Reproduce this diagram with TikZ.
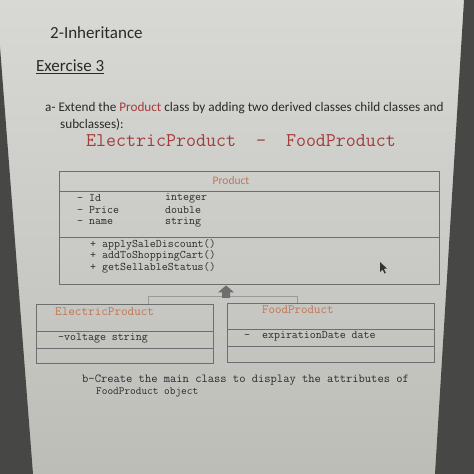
\documentclass[tikz,border=0pt]{standalone}
\usepackage{fontspec}
\setmainfont{Carlito}
\usetikzlibrary{positioning}
\definecolor{bgc}{HTML}{D8D8D5}
\definecolor{bgd}{HTML}{BDBDB8}
\definecolor{edge}{HTML}{474745}
\definecolor{linec}{HTML}{6E6E6E}
\definecolor{hdr}{HTML}{C47452}
\definecolor{redm}{HTML}{A53C3C}
\definecolor{txt}{HTML}{2A2A2A}
\tikzset{
  umlbox/.style={draw=linec, line width=0.9pt, inner sep=0pt},
  sep/.style={draw=linec, line width=0.9pt},
  link/.style={draw=linec!70, line width=1pt},
  body/.style={anchor=west, inner sep=0pt, text=txt, font=\ttfamily\fontsize{11.6}{13}\selectfont},
  sans/.style={anchor=west, inner sep=0pt, text=txt},
}
\begin{document}
\begin{tikzpicture}[x=1pt,y=-1pt]
\useasboundingbox (0,0) rectangle (474,474);
% background (photo of a screen)
\shade[top color=bgc, bottom color=bgd] (0,0) rectangle (474,474);
\fill[edge] (0,47) -- (33,474) -- (0,474) -- cycle;
\fill[edge] (464,0) -- (435,474) -- (474,474) -- (474,0) -- cycle;

% headings
\node[sans, font=\fontsize{17}{20}\selectfont] (title) at (50,33) {2-Inheritance};
\node[sans, font=\fontsize{17}{20}\selectfont] (ex) at (36,67) {\underline{Exercise 3}};
\node[sans, font=\fontsize{13.2}{15}\selectfont] (a1) at (45,108) {a- Extend the \textcolor{redm}{Product} class by adding two derived classes child classes and};
\node[sans, font=\fontsize{13.2}{15}\selectfont] (a2) at (60,125) {subclasses):};
\node[anchor=west, inner sep=0pt, text=redm, font=\ttfamily\fontsize{19.4}{21}\selectfont] (names) at (86,141) {ElectricProduct\ \ -\ \ FoodProduct};

% Product class
\node[umlbox, minimum width=380pt, minimum height=113pt, anchor=north west] (prod) at (59,171) {};
\draw[sep] (59,191) -- (439,191);
\draw[sep] (59,237) -- (439,237);
\node[anchor=center, inner sep=0pt, text=hdr, font=\fontsize{11.5}{13}\selectfont] (prodname) at (231,181) {Product};
\node[body] (a1a) at (77,198) {-\ Id};
\node[body] (a2a) at (77,210) {-\ Price};
\node[body] (a3a) at (77,222) {-\ name};
\node[body] (a1b) at (165,198) {integer};
\node[body] (a2b) at (165,210) {double};
\node[body] (a3b) at (165,222) {string};
\node[body] (m1) at (90,245) {+ applySaleDiscount()};
\node[body] (m2) at (90,256) {+ addToShoppingCart()};
\node[body] (m3) at (90,268) {+ getSellableStatus()};
% mouse pointer
\fill[black!80] (380,262) -- (380,272) -- (382.5,269.5) -- (384.5,273.5) -- (385.8,272.8) -- (383.8,268.8) -- (387,268.5) -- cycle;

% ElectricProduct class
\node[umlbox, minimum width=177pt, minimum height=59pt, anchor=north west] (elec) at (36,304) {};
\draw[sep] (36,331) -- (213,331);
\draw[sep] (36,348) -- (213,348);
\node[anchor=west, inner sep=0pt, text=hdr, font=\ttfamily\fontsize{12.8}{14}\selectfont] (elecname) at (55,312) {ElectricProduct};
\node[body] (volt) at (58,338) {-voltage string};

% FoodProduct class
\node[umlbox, minimum width=207pt, minimum height=59pt, anchor=north west] (food) at (227,303) {};
\draw[sep] (227,329) -- (434,329);
\draw[sep] (227,346) -- (434,346);
\node[anchor=west, inner sep=0pt, text=hdr, font=\ttfamily\fontsize{12.6}{14}\selectfont] (foodname) at (262,310) {FoodProduct};
\node[body] (expd) at (244,336) {-\ \ expirationDate date};

% inheritance connector
\coordinate (hub) at (226,296);
\coordinate (lft) at (148,296);
\coordinate (rgt) at (297,296);
\draw[link] (elec.north -| lft) -- (lft) -- (rgt) -- (food.north -| rgt);
\fill[linec] (prod.south -| hub) ++(0,0.5) -- ++(8,7) -- ++(-4,0) -- ++(0,5.5) -- ++(-8,0) -- ++(0,-5.5) -- ++(-4,0) -- cycle;

% part b
\node[body, font=\ttfamily\fontsize{12.2}{13}\selectfont] (b1) at (82,380) {b-Create the main class to display the attributes of};
\node[body, font=\ttfamily\fontsize{11}{12}\selectfont] (b2) at (96,392) {FoodProduct object};
\end{tikzpicture}
\end{document}
